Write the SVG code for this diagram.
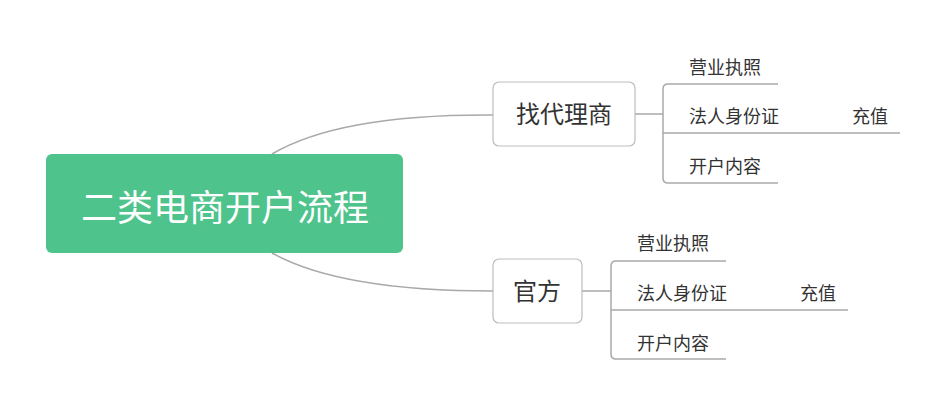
<svg xmlns="http://www.w3.org/2000/svg" width="951" height="407" viewBox="0 0 951 407">
<style>
text{font-family:"Noto Sans CJK SC","Liberation Sans",sans-serif;fill:#333}
.l{fill:none;stroke:#a9a9a9;stroke-width:1.5}
.b{fill:#fff;stroke:#bdbdbd;stroke-width:1.2}
.s{font-size:18px}
.m{font-size:24px;text-anchor:middle}
</style>
<rect width="951" height="407" fill="#fff"/>
<g id="connectors">
<path class="l" d="M272,154 Q340,114 493,115"/>
<path class="l" d="M272,253 Q340,291 493,291"/>
<path class="l" d="M635,114 H663"/>
<path class="l" d="M778,84 H668 Q663,84 663,89 V178 Q663,183 668,183 H778 M663,133 H900"/>
<path class="l" d="M582,291 H611"/>
<path class="l" d="M726,261 H616 Q611,261 611,266 V354 Q611,359 616,359 H726 M611,310 H848"/>
</g>
<g id="root"><rect x="46" y="154" width="357" height="99" rx="6" fill="#4ec38b"/><text x="225" y="221" font-size="36" text-anchor="middle" style="fill:#fff">二类电商开户流程</text></g>
<g id="agent"><rect class="b" x="493" y="82" width="142" height="64" rx="6"/><text class="m" x="564" y="123">找代理商</text></g>
<g id="official"><rect class="b" x="493" y="259" width="89" height="64" rx="6"/><text class="m" x="537" y="300">官方</text></g>
<g id="a1"><text class="s" x="689" y="74">营业执照</text></g>
<g id="a2"><text class="s" x="689" y="123">法人身份证</text></g>
<g id="a3"><text class="s" x="852" y="123">充值</text></g>
<g id="a4"><text class="s" x="689" y="173">开户内容</text></g>
<g id="o1"><text class="s" x="637" y="250">营业执照</text></g>
<g id="o2"><text class="s" x="637" y="300">法人身份证</text></g>
<g id="o3"><text class="s" x="800" y="300">充值</text></g>
<g id="o4"><text class="s" x="637" y="350">开户内容</text></g>
</svg>
